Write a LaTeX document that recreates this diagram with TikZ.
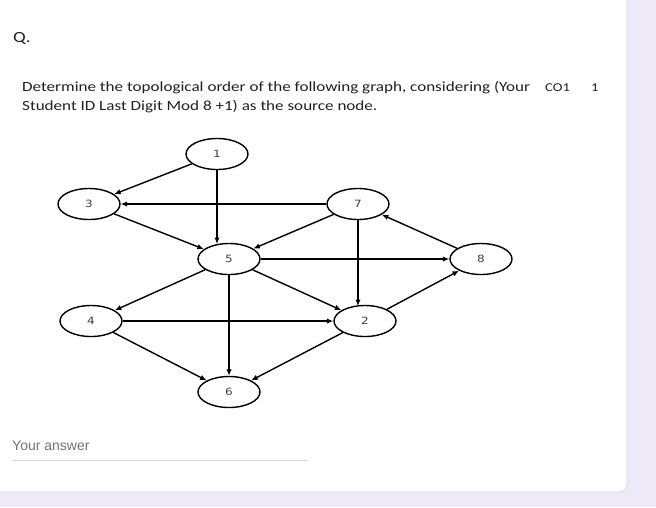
\documentclass[tikz,border=0pt]{standalone}
\usepackage{fontspec}
\setmainfont{Carlito}[FakeStretch=1.22]
\newfontfamily\graphfont{DejaVu Sans}[FakeStretch=1.2]
\newfontfamily\formfont{Liberation Sans}
\usetikzlibrary{shapes.geometric,arrows.meta}
\definecolor{lav}{RGB}{237,233,247}
\definecolor{cardline}{RGB}{218,220,224}
\definecolor{qtext}{RGB}{32,33,36}
\definecolor{hint}{RGB}{112,117,122}
\tikzset{
  vtx/.style={ellipse, draw=black, line width=1.4pt, fill=white, minimum width=62pt, minimum height=31pt, inner sep=0pt, font=\graphfont\fontsize{10}{11}\selectfont, text=black!75},
  edge/.style={line width=1.4pt, -{Latex[length=6.5pt,width=5.5pt]}},
  qstyle/.style={anchor=base west, inner sep=0pt, text=qtext, font=\fontsize{14}{16}\selectfont}
}
\begin{document}
\begin{tikzpicture}[x=1pt,y=-1pt]
\useasboundingbox (0,0) rectangle (656,507);
\fill[lav] (0,0) rectangle (656,507);
\draw[cardline, fill=white, line width=0.8pt, rounded corners=8pt] (-20,-10) rectangle (627,492);
% text
\node[qstyle, font=\fontsize{15.5}{17}\selectfont] (q) at (13,42) {Q.};
\node[qstyle] (l1) at (22,91) {Determine the topological order of the following graph, considering (Your};
\node[qstyle] (l2) at (22,110) {Student ID Last Digit Mod 8 +1) as the source node.};
\node[qstyle, font=\fontsize{12}{14}\selectfont] (co) at (545,91) {CO1};
\node[qstyle, font=\fontsize{12}{14}\selectfont] (pt) at (591,91) {1};
% graph
\node[vtx] (n1) at (217,154) {1};
\node[vtx] (n3) at (89,204) {3};
\node[vtx] (n7) at (358,204) {7};
\node[vtx] (n5) at (229,259) {5};
\node[vtx] (n8) at (481,259) {8};
\node[vtx] (n4) at (91,321) {4};
\node[vtx] (n2) at (365,321) {2};
\node[vtx] (n6) at (229,392) {6};
\coordinate (e15) at (217,244);
\coordinate (e72) at (358,306);
\draw[edge] (n1) -- (n3);
\draw[edge] (n1.south) -- (e15);
\draw[edge] (n7) -- (n3);
\draw[edge] (n3) -- (n5);
\draw[edge] (n7) -- (n5);
\draw[edge] (n5) -- (n8);
\draw[edge] (n8) -- (n7);
\draw[edge] (n7.south) -- (e72);
\draw[edge] (n5) -- (n4);
\draw[edge] (n5) -- (n2);
\draw[edge] (n5) -- (n6);
\draw[edge] (n4) -- (n2);
\draw[edge] (n4) -- (n6);
\draw[edge] (n2) -- (n6);
\draw[edge] (n2) -- (n8);
% answer
\node[anchor=base west, inner sep=0pt, text=hint, font=\formfont\fontsize{14}{16}\selectfont] (ans) at (12,450) {Your answer};
\draw[cardline, line width=0.8pt] (12,460) -- (308,460);
\end{tikzpicture}
\end{document}
